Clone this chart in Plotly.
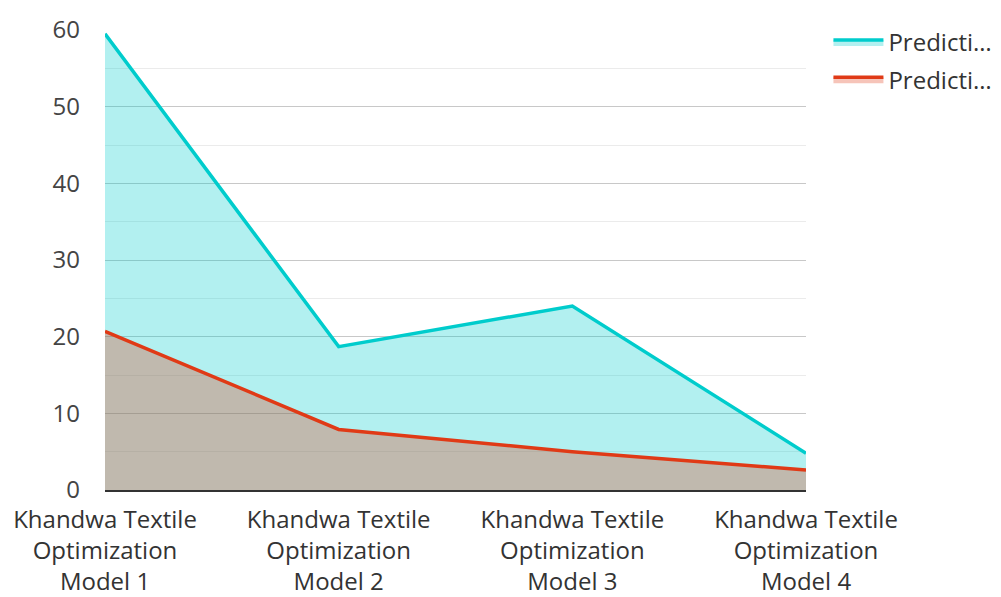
import plotly.graph_objects as go

categories = ["Khandwa Textile<br>Optimization<br>Model 1", "Khandwa Textile<br>Optimization<br>Model 2",
              "Khandwa Textile<br>Optimization<br>Model 3", "Khandwa Textile<br>Optimization<br>Model 4"]
series_a = [59.5, 18.7, 24.0, 4.8]
series_b = [20.7, 7.9, 5.0, 2.6]
legend_names = ["Predicti…", "Predicti…"]

fig = go.Figure()
fig.add_trace(go.Scatter(x=categories, y=series_a, name=legend_names[0], mode="lines",
                         line=dict(color="#00CCCC", width=3.5), fill="tozeroy",
                         fillcolor="rgba(0,204,204,0.3)", legendgroup="a"))
fig.add_trace(go.Scatter(x=categories, y=series_b, name=legend_names[1], mode="lines",
                         line=dict(color="#E03A16", width=3.5), fill="tozeroy",
                         fillcolor="rgba(224,58,22,0.3)", legendgroup="b"))

fig.update_layout(
    width=1001, height=597,
    margin=dict(l=97, r=202, t=16, b=115),
    paper_bgcolor="white", plot_bgcolor="white",
    font=dict(family="Open Sans", size=24, color="#444"),
    showlegend=True,
    legend=dict(x=1.032, y=1.022, xanchor="left", yanchor="top", font=dict(size=24, color="#333"),
                tracegroupgap=3, itemwidth=50),
    xaxis=dict(range=[0, 3], showgrid=False, showline=True, linecolor="#333", linewidth=2,
               ticks="", automargin=False, ticklabelstandoff=7,
               tickfont=dict(size=24, color="#333")),
    yaxis=dict(range=[0, 60], dtick=10, showgrid=True, gridcolor="#c8c8c8", gridwidth=1,
               zeroline=False, ticks="", automargin=False, ticklabelstandoff=24,
               tickfont=dict(size=24, color="#444"),
               minor=dict(dtick=5, showgrid=True, gridcolor="#ebebeb", gridwidth=1)),
)
fig.write_html("out.html")
